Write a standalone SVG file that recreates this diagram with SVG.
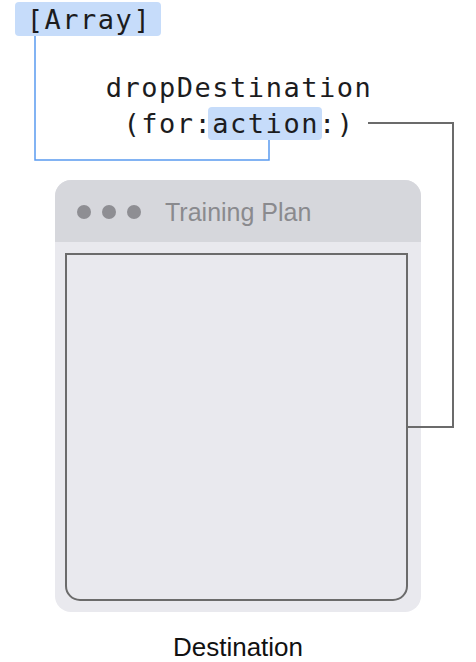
<svg xmlns="http://www.w3.org/2000/svg" width="476" height="662" viewBox="0 0 476 662">
<style>
.mono{font-family:"DejaVu Sans Mono","Liberation Mono",monospace;font-size:27px;letter-spacing:1.5px;fill:#1c1c1e}
.sans{font-family:"Liberation Sans","Inter",sans-serif}
.hl{fill:#c6dcfa}
</style>
<rect width="476" height="662" fill="#ffffff"/>
<g id="array-label">
<rect class="hl" x="15" y="2" width="146" height="34" rx="4"/>
<text class="mono" x="89" y="29" text-anchor="middle">[Array]</text>
</g>
<g id="modifier">
<rect class="hl" x="208" y="107" width="114" height="33" rx="4"/>
<text class="mono" x="239" y="97" text-anchor="middle">dropDestination</text>
<text class="mono" x="239" y="133" text-anchor="middle">(for:action:)</text>
</g>
<g id="window">
<rect x="55" y="180" width="366" height="432" rx="16" fill="#e9e9ee"/>
<path d="M55,242 V196 A16,16 0 0 1 71,180 H405 A16,16 0 0 1 421,196 V242 Z" fill="#d6d7dc"/>
<circle cx="84" cy="212" r="7" fill="#8e8e93"/>
<circle cx="109" cy="212" r="7" fill="#8e8e93"/>
<circle cx="134" cy="212" r="7" fill="#8e8e93"/>
<text class="sans" x="165" y="221" font-size="25" fill="#8a8a8e">Training Plan</text>
<path d="M66,254 H407 V586 A14,14 0 0 1 393,600 H80 A14,14 0 0 1 66,586 Z" fill="#e9e9ee" stroke="#6b6b6b" stroke-width="2"/>
</g>
<g id="destination-label">
<text class="sans" x="238" y="656" font-size="26" fill="#111111" text-anchor="middle">Destination</text>
</g>
<g id="connectors" fill="none">
<polyline points="35,36 35,160 269,160 269,140" stroke="#5a9af0" stroke-width="1.5"/>
<polyline points="368,123 453,123 453,427 407,427" stroke="#6b6b6b" stroke-width="2"/>
</g>
</svg>
